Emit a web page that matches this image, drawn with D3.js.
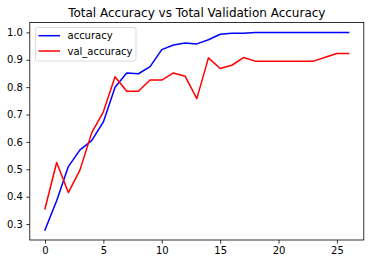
<!DOCTYPE html>
<html><head><meta charset="utf-8">
<script src="https://cdn.jsdelivr.net/npm/d3@7"></script>
<style>body{margin:0;background:#fff}svg{display:block;font-family:"DejaVu Sans",sans-serif}</style>
</head><body>
<svg id="c" width="372" height="264"></svg>
<script>
const epochs = d3.range(0, 27);
const accuracy = [0.278, 0.385, 0.51, 0.571, 0.605, 0.673, 0.80, 0.852, 0.849, 0.875, 0.937, 0.954, 0.961, 0.958, 0.973, 0.993, 0.997, 0.997, 1.0, 1.0, 1.0, 1.0, 1.0, 1.0, 1.0, 1.0, 1.0];
const valAccuracy = [0.356, 0.525, 0.415, 0.498, 0.633, 0.71, 0.838, 0.785, 0.785, 0.826, 0.826, 0.852, 0.840, 0.758, 0.907, 0.868, 0.880, 0.908, 0.895, 0.895, 0.895, 0.895, 0.895, 0.895, 0.909, 0.923, 0.923];
const xTicks = [0, 5, 10, 15, 20, 25];
const yTicks = [0.3, 0.4, 0.5, 0.6, 0.7, 0.8, 0.9, 1.0];
const seriesNames = ["accuracy", "val_accuracy"];
const seriesColors = ["#0000ff", "#ff0000"];
const titleText = "Total Accuracy vs Total Validation Accuracy";

const svg = d3.select("#c");
const L = 29.8, R = 363.8, T = 22.5, B = 240;
const allY = accuracy.concat(valAccuracy);
const ymin = d3.min(allY), ymax = d3.max(allY);
const ypad = (ymax - ymin) * 0.05;
const x = d3.scaleLinear().domain([-1.3, 27.3]).range([L, R]);
const y = d3.scaleLinear().domain([ymin - ypad, ymax + ypad]).range([B, T]);

const line = d3.line().x((d, i) => x(epochs[i])).y(d => y(d));
[accuracy, valAccuracy].forEach((s, k) => {
  svg.append("path").datum(s).attr("d", line).attr("fill", "none")
    .attr("stroke", seriesColors[k]).attr("stroke-width", 1.5)
    .attr("stroke-linejoin", "round").attr("stroke-linecap", "square");
});

const xAxis = svg.append("g").attr("transform", `translate(0,${B})`)
  .call(d3.axisBottom(x).tickValues(xTicks).tickFormat(d3.format("d")).tickSizeOuter(0).tickSize(3.5).tickPadding(3.5));
const yAxis = svg.append("g").attr("transform", `translate(${L},0)`)
  .call(d3.axisLeft(y).tickValues(yTicks).tickFormat(d3.format(".1f")).tickSizeOuter(0).tickSize(3.5).tickPadding(3.5));
[xAxis, yAxis].forEach(g => {
  g.select(".domain").remove();
  g.selectAll("line").attr("stroke", "#000").attr("stroke-width", 0.8);
  g.selectAll("text").attr("fill", "#000").attr("font-size", 10).attr("font-family", "DejaVu Sans");
});

svg.append("rect").attr("x", L).attr("y", T).attr("width", R - L).attr("height", B - T)
  .attr("fill", "none").attr("stroke", "#000").attr("stroke-width", 0.8);

svg.append("text").attr("x", (L + R) / 2).attr("y", 17).attr("text-anchor", "middle")
  .attr("font-size", 12).attr("fill", "#000").text(titleText);

const lg = svg.append("g");
lg.append("rect").attr("x", 35.5).attr("y", 27.5).attr("width", 100.5).attr("height", 33.5)
  .attr("rx", 2).attr("fill", "#fff").attr("fill-opacity", 0.8).attr("stroke", "#d0d0d0").attr("stroke-width", 0.8);
seriesNames.forEach((n, k) => {
  const yy = 35.7 + k * 15.3;
  lg.append("line").attr("x1", 38.5).attr("x2", 60).attr("y1", yy).attr("y2", yy)
    .attr("stroke", seriesColors[k]).attr("stroke-width", 1.5);
  lg.append("text").attr("x", 67.5).attr("y", yy + 3.6).attr("font-size", 10).attr("fill", "#000").text(n);
});
</script>
</body></html>
